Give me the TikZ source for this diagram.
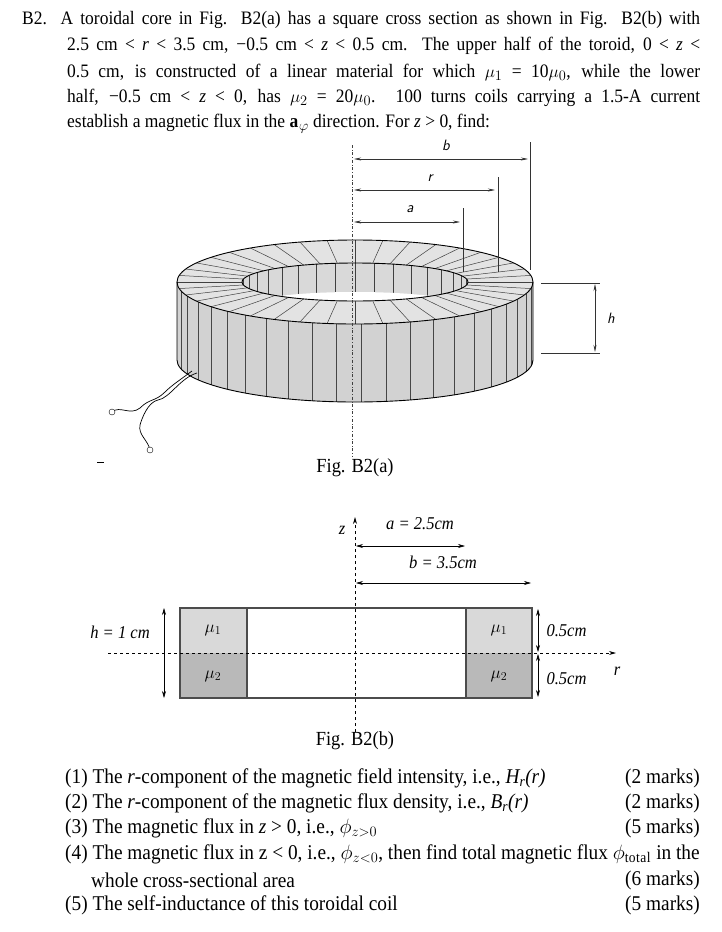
\documentclass[tikz,border=0pt]{standalone}
\usepackage{fontspec}
\setmainfont{Liberation Serif}[FakeStretch=0.92]
\usetikzlibrary{arrows.meta}
\newcommand{\vi}[1]{\textit{#1}}
\begin{document}
\begin{tikzpicture}[x=1pt,y=-1pt,
  ddim/.style={{Stealth[length=7pt,width=4pt]}-{Stealth[length=7pt,width=4pt]},line width=0.6pt},
  sdim/.style={{Stealth[length=7pt,width=3pt]}-{Stealth[length=7pt,width=3pt]},line width=0.6pt,gray!40!black},
  body/.style={font=\fontsize{19}{21}\selectfont,inner sep=0,anchor=west},
  lab/.style={font=\fontsize{18}{20}\selectfont\itshape},
  slab/.style={font=\fontsize{15}{17}\selectfont\sffamily\itshape},
  mat/.style={draw=black!70,line width=1.2pt}]
\useasboundingbox (0,0) rectangle (721,932);
% header text
\node[body] (l1) at (22,20) {\makebox[678pt][s]{B2. A toroidal core in Fig. B2(a) has a square cross section as shown in Fig. B2(b) with}};
\node[body] (l2) at (67,46) {\makebox[633pt][s]{2.5 cm < \vi{r} < 3.5 cm, −0.5 cm < \vi{z} < 0.5 cm. The upper half of the toroid, 0 < \vi{z} <}};
\node[body] (l3) at (67,72) {\makebox[633pt][s]{0.5 cm, is constructed of a linear material for which $\mu_1$ = 10$\mu_0$, while the lower}};
\node[body] (l4) at (67,98) {\makebox[633pt][s]{half, −0.5 cm < \vi{z} < 0, has $\mu_2$ = 20$\mu_0$. 100 turns coils carrying a 1.5-A current}};
\node[body] (l5) at (67,124) {establish a magnetic flux in the $\mathbf{a}_\varphi$ direction. For \vi{z} > 0, find:};
% ---------- toroid ----------
\def\cx{355}\def\cy{282}\def\R{178}\def\Ry{42}\def\H{78}\def\r{113}\def\ry{19}
\fill[gray!35] (177,282) -- (177,360) arc[start angle=180,end angle=0,x radius=\R,y radius=\Ry] -- (533,282) arc[start angle=0,end angle=180,x radius=\R,y radius=\Ry] -- cycle;
\foreach \t in {8,16,...,172}{
  \draw[gray!55!black,line width=0.5pt] ({\cx+\R*cos(\t)},{\cy+\Ry*sin(\t)}) -- ++(0,\H);}
\fill[gray!22] (\cx,\cy) ellipse[x radius=\R,y radius=\Ry];
\foreach \t in {0,9,...,351}{
  \draw[gray!50!black,line width=0.5pt] ({\cx+\r*cos(\t)},{\cy+\ry*sin(\t)}) -- ({\cx+\R*cos(\t)},{\cy+\Ry*sin(\t)});}
\begin{scope}
\clip (\cx,\cy) ellipse[x radius=\r,y radius=\ry];
\fill[gray!30] (\cx,\cy) ellipse[x radius=\r,y radius=\ry];
\foreach \t in {190,200,...,350}{
  \draw[gray!50!black,line width=0.5pt] ({\cx+\r*cos(\t)},{\cy+\ry*sin(\t)}) -- ++(0,40);}
\fill[white] (\cx,306) ellipse[x radius=108,y radius=14];
\end{scope}
\draw[line width=0.9pt] (\cx,\cy) ellipse[x radius=\R,y radius=\Ry];
\draw[line width=0.9pt] (\cx,\cy) ellipse[x radius=\r,y radius=\ry];
\draw[line width=0.9pt] (177,282) -- (177,360) arc[start angle=180,end angle=0,x radius=\R,y radius=\Ry] -- (533,282);
% wire (twisted pair)
\coordinate (t1) at (112,412);
\coordinate (t2) at (150,450);
\draw[line width=0.7pt] (192,371) .. controls (180,380) and (172,385) .. (165,392) .. controls (155,402) and (150,398) .. (140,408) .. controls (130,416) and (120,405) .. (t1);
\draw[line width=0.7pt] (197,373) .. controls (180,378) and (170,398) .. (158,400) .. controls (148,402) and (142,418) .. (140,425) .. controls (138,435) and (148,440) .. (t2);
\draw[fill=white] (t1) circle (3); \draw[fill=white] (t2) circle (3);
\draw (97,462) -- (104,462);
% dimensions (a)
\draw[dash dot,gray!50!black,line width=0.6pt] (352,145) -- (352,456);
\draw[gray!40!black,line width=0.6pt] (530,142) -- (530,270);
\draw[gray!40!black,line width=0.6pt] (498,177) -- (498,272);
\draw[gray!40!black,line width=0.6pt] (463,208) -- (463,272);
\draw[sdim] (354,159) -- (528,159);
\draw[sdim] (354,190) -- (495,190);
\draw[sdim] (354,222) -- (460,222);
\node[slab] (lb) at (446,145) {b};
\node[slab] (lr) at (430,178) {r};
\node[slab] (la) at (410,209) {a};
\draw[gray!40!black,line width=0.6pt] (541,283) -- (600,283);
\draw[gray!40!black,line width=0.6pt] (541,353) -- (600,353);
\draw[sdim] (595,284) -- (595,352);
\node[slab] (lh) at (611,318) {h};
\node[font=\fontsize{20}{22}\selectfont] (capa) at (355,468) {Fig. B2(a)};
% ---------- cross-section ----------
\fill[gray!30] (180,608) rectangle (247,653);
\fill[gray!55] (180,653) rectangle (247,698);
\fill[gray!30] (466,608) rectangle (532,653);
\fill[gray!55] (466,653) rectangle (532,698);
\draw[mat] (180,608) rectangle (532,698);
\draw[mat] (247,608) -- (247,698); \draw[mat] (466,608) -- (466,698);
\node[lab] (m1a) at (213,630) {$\mu_1$};
\node[lab] (m2a) at (213,676) {$\mu_2$};
\node[lab] (m1b) at (499,630) {$\mu_1$};
\node[lab] (m2b) at (499,676) {$\mu_2$};
\draw[dashed,line width=0.8pt,-{Stealth[length=7pt,width=4pt]}] (108,653) -- (616,653);
\node[lab] (rl) at (617,671) {r};
\draw[dashed,line width=0.8pt,-{Stealth[length=7pt,width=4pt]}] (355,732) -- (355,517);
\node[lab] (zl) at (342,530) {z};
\draw[ddim] (356,546) -- (465,546);
\node[lab] (al) at (420,524) {a = 2.5cm};
\draw[ddim] (356,583) -- (531,583);
\node[lab] (bl) at (443,562) {b = 3.5cm};
\draw[ddim] (164,608) -- (164,698);
\node[lab] (hl) at (120,632) {h = 1 cm};
\draw[ddim] (538,609) -- (538,652);
\draw[ddim] (538,654) -- (538,697);
\node[lab,anchor=west] (h1) at (543,631) {0.5cm};
\node[lab,anchor=west] (h2) at (543,679) {0.5cm};
\node[font=\fontsize{20}{22}\selectfont] (capb) at (355,741) {Fig. B2(b)};
% ---------- questions ----------
\begin{scope}[every node/.style={font=\fontsize{21}{23}\selectfont,inner sep=0}]
\node[anchor=west] (q1) at (65,778) {(1) The \textit{r}-component of the magnetic field intensity, i.e., \textit{H\textsubscript{r}(r)}};
\node[anchor=east] (k1) at (700,778) {(2 marks)};
\node[anchor=west] (q2) at (65,803) {(2) The \textit{r}-component of the magnetic flux density, i.e., \textit{B\textsubscript{r}(r)}};
\node[anchor=east] (k2) at (700,803) {(2 marks)};
\node[anchor=west] (q3) at (65,828) {(3) The magnetic flux in \textit{z} > 0, i.e., $\phi_{z>0}$};
\node[anchor=east] (k3) at (700,828) {(5 marks)};
\node[anchor=west] (q4) at (65,854) {(4) The magnetic flux in z < 0, i.e., $\phi_{z<0}$, then find total magnetic flux $\phi_{\mathrm{total}}$ in the};
\node[anchor=west] (q4b) at (91,880) {whole cross-sectional area};
\node[anchor=east] (k4) at (700,880) {(6 marks)};
\node[anchor=west] (q5) at (65,905) {(5) The self-inductance of this toroidal coil};
\node[anchor=east] (k5) at (700,905) {(5 marks)};
\end{scope}
\end{tikzpicture}
\end{document}
